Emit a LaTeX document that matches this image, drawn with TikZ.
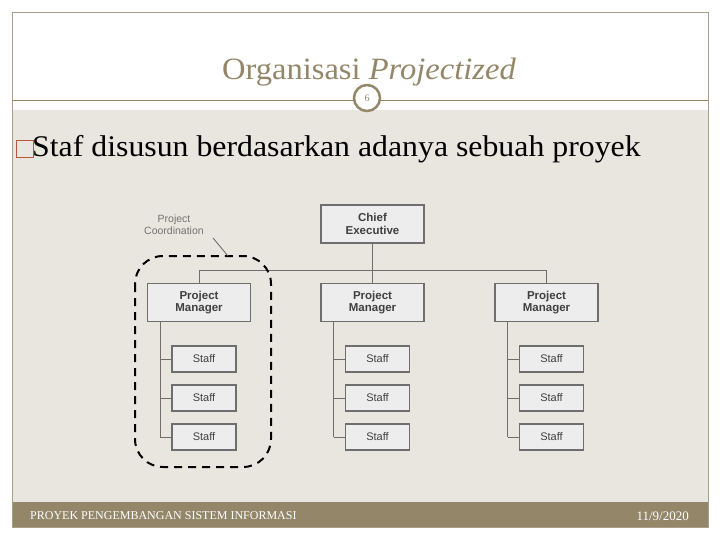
\documentclass[tikz,border=0pt]{standalone}
\usepackage{fontspec}
\setmainfont{Liberation Serif}
\newfontfamily\arialf{Liberation Sans}
\definecolor{tan}{HTML}{938669}
\definecolor{bgg}{HTML}{E9E5DF}
\definecolor{boxf}{HTML}{EDEDED}
\definecolor{boxd}{HTML}{6E6E6E}
\definecolor{bul}{HTML}{B9553A}
\begin{document}
\begin{tikzpicture}[x=1pt,y=-1pt,
 org/.style={draw=boxd,line width=1.2pt,fill=boxf,font=\arialf\bfseries\fontsize{11.5}{12.5}\selectfont,text=black!75,align=center,inner sep=0pt},
 big/.style={org,minimum width=103pt,minimum height=38pt},
 staff/.style={org,font=\arialf\fontsize{11}{12}\selectfont,minimum width=64pt,minimum height=26pt},
 ln/.style={draw=boxd,line width=1pt}]
\useasboundingbox (0,0) rectangle (720,540);
\fill[white] (0,0) rectangle (720,540);
\fill[bgg] (12,110) rectangle (708,502);
\fill[tan] (12,502) rectangle (708,527);
\draw[tan!80,line width=0.8pt] (12,12) rectangle (708,527);
\draw[tan,line width=0.8pt] (12,100) -- (708,100);
\node[font=\fontsize{31}{34}\selectfont,text=tan,xscale=1.05,transform shape] (title) at (369,72) {Organisasi \textit{Projectized}};
\node[circle,draw=tan,line width=2.5pt,fill=white,minimum size=26pt,inner sep=0pt,font=\fontsize{10}{11}\selectfont,text=tan] (pg) at (367,98) {6};
\node[anchor=west,font=\fontsize{30}{32}\selectfont,inner sep=0pt,xscale=1.06,transform shape] (bt) at (32,149) {Staf disusun berdasarkan adanya sebuah proyek};
\node[draw=bul,line width=1.3pt,minimum size=17pt,inner sep=0pt] (bx) at (25,149) {};
\node[anchor=west,text=white,font=\fontsize{12}{13}\selectfont,inner sep=0pt] (ft) at (30,516) {PROYEK PENGEMBANGAN SISTEM INFORMASI};
\node[anchor=east,text=white,font=\fontsize{13}{14}\selectfont,inner sep=0pt] (dt) at (689,516) {11/9/2020};

\node[big] (ce) at (372.5,224) {Chief\\Executive};
\foreach \i/\x in {1/199,2/372.5,3/546.5}{
 \node[big] (pm\i) at (\x,302.5) {Project\\Manager};
 \foreach \j/\y in {1/359,2/398,3/437}{
  \node[staff] (s\i\j) at (\x+5,\y) {Staff};
 }
}
\coordinate (hl) at (199,270); \coordinate (hr) at (546.5,270);
\draw[ln] (ce.south) -- (372.5,270);
\draw[ln] (hl) -- (hr);
\foreach \i in {1,2,3}{
 \draw[ln] (pm\i.north |- hl) -- (pm\i.north);
 \draw[ln] ([xshift=-39pt]pm\i.south) -- ([xshift=-39pt]pm\i.south |- s\i3.west);
 \foreach \j in {1,2,3}{ \draw[ln] ([xshift=-39pt]pm\i.south |- s\i\j.west) -- (s\i\j.west); }
}
\draw[dashed,line width=2pt,dash pattern=on 8pt off 6pt,rounded corners=28pt] (135,256) rectangle (271,467);
\node[text=black!55,font=\arialf\fontsize{10.5}{12}\selectfont,align=center,inner sep=0pt] (pc) at (174,225) {Project\\Coordination};
\coordinate (pce) at (228,256);
\draw[black!60,line width=0.8pt] (213,238) -- (pce);
\end{tikzpicture}
\end{document}
